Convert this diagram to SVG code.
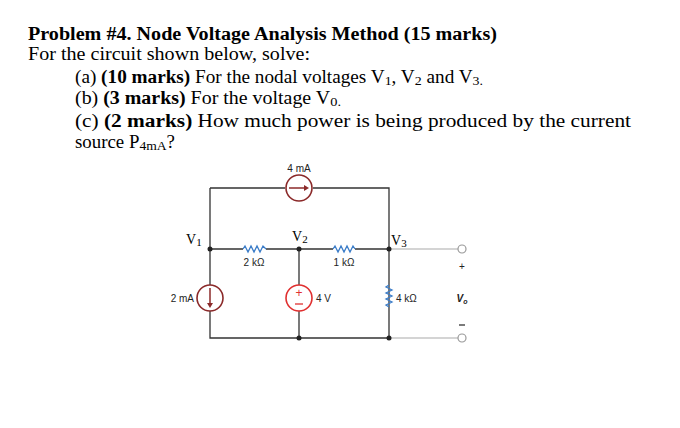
<svg xmlns="http://www.w3.org/2000/svg" width="680" height="428" viewBox="0 0 680 428">
<style>
.t{font-family:"Liberation Serif",serif;font-size:18px;fill:#000}
.b{font-weight:bold}
.l{font-family:"Liberation Sans",sans-serif;font-size:10px;fill:#222}
.n{font-family:"Liberation Serif",serif;font-size:14px;fill:#000}
.w{stroke:#333;stroke-width:1.3;fill:none}
.r{stroke:#3a7cc8;stroke-width:1.3;fill:none}
.cs{stroke:#8b2a2a;stroke-width:1.6;fill:#fff}
.vs{stroke:#e03030;stroke-width:1.6;fill:#fff}
</style>
<rect width="680" height="428" fill="#fff"/>
<text class="t b" x="28" y="40" textLength="469" lengthAdjust="spacingAndGlyphs">Problem #4. Node Voltage Analysis Method (15 marks)</text>
<text class="t" x="28" y="60" textLength="282" lengthAdjust="spacingAndGlyphs">For the circuit shown below, solve:</text>
<text class="t" x="75" y="83" textLength="408" lengthAdjust="spacingAndGlyphs">(a) <tspan class="b">(10 marks)</tspan> For the nodal voltages V<tspan font-size="13" dy="2">1</tspan><tspan dy="-2">, V</tspan><tspan font-size="13" dy="2">2</tspan><tspan dy="-2"> and V</tspan><tspan font-size="13" dy="2">3.</tspan></text>
<text class="t" x="75" y="104" textLength="266" lengthAdjust="spacingAndGlyphs">(b) <tspan class="b">(3 marks)</tspan> For the voltage V<tspan font-size="13" dy="2">0.</tspan></text>
<text class="t" x="75" y="127" textLength="556" lengthAdjust="spacingAndGlyphs">(c) <tspan class="b">(2 marks)</tspan> How much power is being produced by the current</text>
<text class="t" x="75" y="148" textLength="100" lengthAdjust="spacingAndGlyphs">source P<tspan font-size="13" dy="2">4mA</tspan><tspan dy="-2">?</tspan></text>
<g id="wires">
<path class="w" d="M210,188H285M313,188H389V338H210V311M210,285V188M210,249H243M266,249H333M355,249H389M299,249V285M299,311V338M389,249V285M389,312V338"/>
<path d="M389,249H458M389,338H458" stroke="#aaa" stroke-width="1.2" fill="none"/>
<circle cx="462" cy="249" r="4" fill="#fff" stroke="#999" stroke-width="1.2"/>
<circle cx="462" cy="338" r="4" fill="#fff" stroke="#999" stroke-width="1.2"/>
<g fill="#222"><circle cx="210" cy="249" r="2.5"/><circle cx="299" cy="249" r="2.5"/><circle cx="389" cy="249" r="2.5"/><circle cx="299" cy="338" r="2.5"/><circle cx="389" cy="338" r="2.5"/></g>
</g>
<g id="I4">
<circle class="cs" cx="299" cy="188" r="13"/>
<path d="M289,188H307" stroke="#8b2a2a" stroke-width="1.5"/><path d="M309,188l-5,-3v6z" fill="#8b2a2a"/>
<text class="l" x="299" y="172" text-anchor="middle">4 mA</text>
</g>
<g id="I2">
<circle class="cs" cx="210" cy="298" r="13"/>
<path d="M210,288V305" stroke="#8b2a2a" stroke-width="1.5"/><path d="M210,308l-3,-5h6z" fill="#8b2a2a"/>
<text class="l" x="194" y="302" text-anchor="end">2 mA</text>
</g>
<g id="V4">
<circle class="vs" cx="299" cy="298" r="13"/>
<text x="299" y="297" font-family="Liberation Sans,sans-serif" font-size="12" fill="#e03030" text-anchor="middle">+</text>
<path d="M295,304H303" stroke="#e03030" stroke-width="1.3"/>
<text class="l" x="316" y="302">4 V</text>
</g>
<g id="R2">
<path class="r" d="M243,249l2,-3l3,6l3,-6l3,6l3,-6l3,6l3,-6l3,3"/>
<text class="l" x="254" y="266" text-anchor="middle">2 kΩ</text>
</g>
<g id="R1">
<path class="r" d="M333,249l2,-3l3,6l3,-6l3,6l3,-6l3,6l3,-6l2,3"/>
<text class="l" x="344" y="266" text-anchor="middle">1 kΩ</text>
</g>
<g id="R4">
<path class="r" d="M389,285l-3,2l6,3l-6,3l6,3l-6,3l6,3l-6,3l3,2"/>
<text class="l" x="396" y="302">4 kΩ</text>
</g>
<text class="n" x="186" y="244">V<tspan font-size="11" dy="2">1</tspan></text>
<text class="n" x="292" y="241">V<tspan font-size="11" dy="2">2</tspan></text>
<text class="n" x="391" y="245">V<tspan font-size="11" dy="2">3</tspan></text>
<text class="l" x="462" y="270" text-anchor="middle">+</text>
<text class="l" x="462" y="302" text-anchor="middle" font-style="italic" font-weight="bold">V<tspan font-size="7" dy="2">o</tspan></text>
<path d="M459,325H465" stroke="#333" stroke-width="1.3"/>
</svg>
